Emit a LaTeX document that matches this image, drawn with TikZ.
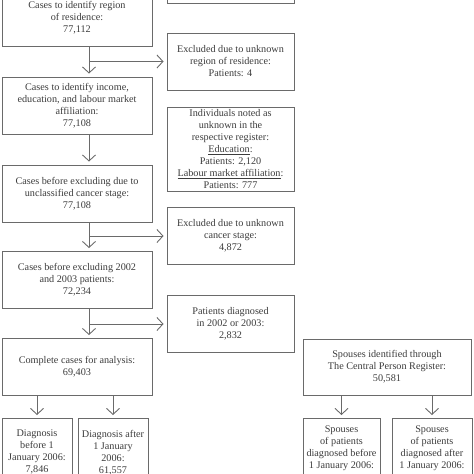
\documentclass[tikz,border=0pt]{standalone}
\usepackage{fontspec}
\setmainfont{Liberation Serif}
\usepackage{xcolor}
\usetikzlibrary{positioning, arrows.meta, calc}
\definecolor{linegray}{HTML}{6A6A6A}
\definecolor{textgray}{HTML}{3C3C3C}

\tikzset{
  flowbox/.style={draw=linegray, line width=0.9pt, align=center, text=textgray,
    font=\fontsize{10.2}{12}\selectfont, inner sep=1pt},
  mainbox/.style={flowbox, minimum width=150pt, minimum height=57pt},
  sidebox/.style={flowbox, minimum width=127pt, minimum height=57pt},
  smallbox/.style={flowbox, anchor=north, minimum height=70pt, text depth=0pt},
  arr/.style={draw=linegray, line width=0.9pt, -{Straight Barb[length=6pt, width=13pt]}, shorten >=3pt}
}

\begin{document}
\begin{tikzpicture}[x=1pt, y=-1pt]
    \useasboundingbox (0,0) rectangle (474,474);
    \clip (0,0) rectangle (474,474);

    % main column
    \node[mainbox] (region) at (77,17.5) {Cases to identify region\\of residence:\\77,112};
    \node[mainbox] (income) at (77,105.5) {Cases to identify income,\\education, and labour market\\affiliation:\\77,108};
    \node[mainbox] (stage) at (77,193.5) {Cases before excluding due to\\unclassified cancer stage:\\77,108};
    \node[mainbox] (years) at (77,280) {Cases before excluding 2002\\and 2003 patients:\\72,234};
    \node[mainbox] (complete) at (77,367) {Complete cases for analysis:\\69,403};

    % exclusions
    \node[sidebox] (top) at (230.5,-25.5) {};
    \node[sidebox] (exregion) at (230.5,61.5) {Excluded due to unknown\\region of residence:\\Patients: 4};
    \node[sidebox, minimum height=84pt] (unknown) at (230.5,149) {Individuals noted as\\unknown in the\\respective register:\\\underline{Education}:\\Patients: 2,120\\\underline{Labour market affiliation}:\\Patients: 777};
    \node[sidebox] (exstage) at (230.5,236) {Excluded due to unknown\\cancer stage:\\4,872};
    \node[sidebox] (exyears) at (230.5,324) {Patients diagnosed\\in 2002 or 2003:\\2,832};

    % spouses
    \node[flowbox, minimum width=168pt, minimum height=56pt] (spouses) at (387,367) {Spouses identified through\\The Central Person Register:\\50,581};

    % split by diagnosis date
    \node[smallbox, minimum width=70pt, minimum height=66pt] (before) at (37,418) {Diagnosis\\before 1\\January 2006:\\7,846};
    \node[smallbox, minimum width=70pt, minimum height=66pt] (after) at (113,418) {Diagnosis after\\1 January\\2006:\\61,557};
    \node[smallbox, minimum width=77pt, minimum height=58pt] (spbefore) at (341.5,418) {Spouses\\of patients\\diagnosed before\\1 January 2006:};
    \node[smallbox, minimum width=80pt, minimum height=58pt] (spafter) at (432,418) {Spouses\\of patients\\diagnosed after\\1 January 2006:};
    \draw[linegray, line width=0.9pt] (spbefore.south west) -- ++(0,20) (spbefore.south east) -- ++(0,20)
      (spafter.south west) -- ++(0,20) (spafter.south east) -- ++(0,20);

    % connectors
    \draw[arr] ([xshift=12pt]region.south) -- ([xshift=12pt]income.north);
    \draw[arr] ([xshift=12pt]income.south) -- ([xshift=12pt]stage.north);
    \draw[arr] ([xshift=12pt]stage.south) -- ([xshift=12pt]years.north);
    \draw[arr] ([xshift=12pt]years.south) -- ([xshift=12pt]complete.north);
    \draw[arr] ([xshift=12pt]region.south |- exregion.west) -- (exregion.west);
    \draw[arr] ([xshift=12pt]stage.south |- exstage.west) -- (exstage.west);
    \draw[arr] ([xshift=12pt]years.south |- exyears.west) -- (exyears.west);
    \draw[arr] (before.north |- complete.south) -- (before.north);
    \draw[arr] (after.north |- complete.south) -- (after.north);
    \draw[arr] (spbefore.north |- spouses.south) -- (spbefore.north);
    \draw[arr] (spafter.north |- spouses.south) -- (spafter.north);
\end{tikzpicture}
\end{document}
